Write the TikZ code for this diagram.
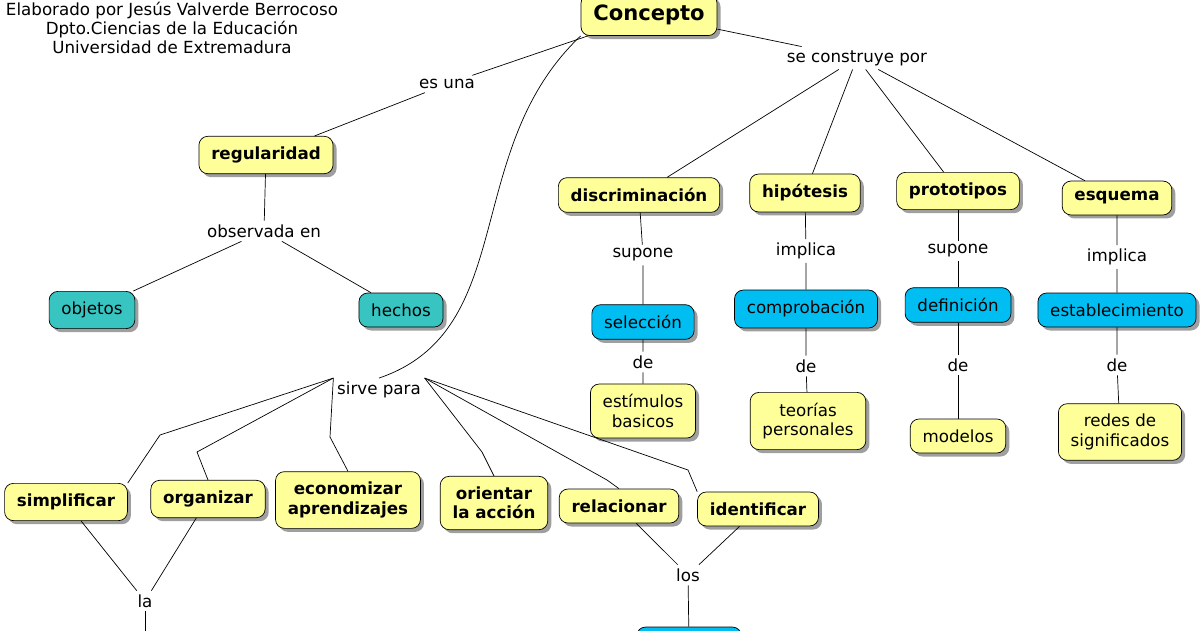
\documentclass[tikz,border=0pt]{standalone}
\usepackage{fontspec}
\setmainfont{DejaVu Sans}
\usetikzlibrary{shadows}
\definecolor{conyel}{HTML}{FFFF99}
\definecolor{concyan}{HTML}{00BEF2}
\definecolor{conteal}{HTML}{38C4C0}
\tikzset{
  concept/.style={draw=black, thin, rounded corners=5pt, fill=conyel, font=\fontsize{9.5}{11}\selectfont\bfseries,
    align=center, inner xsep=7pt, inner ysep=6pt, drop shadow={shadow xshift=2pt, shadow yshift=-2pt, fill=black!75}},
  act/.style={concept, fill=concyan, font=\fontsize{9.5}{11}\selectfont},
  obj/.style={concept, fill=conteal, font=\fontsize{9.5}{11}\selectfont},
  plain/.style={concept, font=\fontsize{9.5}{11}\selectfont},
  link/.style={font=\fontsize{9.5}{11}\selectfont, fill=white, inner sep=2pt},
  every path/.style={thin}
}
\begin{document}
\begin{tikzpicture}[x=0.02cm, y=-0.02cm]
  \useasboundingbox (0,0) rectangle (1200,630);
  \node[font=\fontsize{9.5}{11}\selectfont, align=center] (autor) at (172,28)
    {Elaborado por Jesús Valverde Berrocoso\\Dpto.Ciencias de la Educación\\Universidad de Extremadura};

  % top level
  \node[concept, font=\fontsize{12}{14}\selectfont\bfseries] (concepto) at (649,15) {Concepto};
  \node[link] (esuna) at (447,84) {es una};
  \node[link] (construye) at (857,58) {se construye por};
  \node[link] (sirve) at (379,390) {sirve para};

  % left branch
  \node[concept] (regular) at (266,155) {regularidad};
  \node[link] (observada) at (264,231) {observada en};
  \node[obj] (objetos) at (92,310) {objetos};
  \node[obj] (hechos) at (401,310) {hechos};

  % right branch
  \node[concept] (discrim) at (639,195) {discriminación};
  \node[concept] (hipo) at (805,193) {hipótesis};
  \node[concept] (proto) at (958,191) {prototipos};
  \node[concept] (esquema) at (1117,198) {esquema};
  \node[link] (sup1) at (643,255) {supone};
  \node[link] (imp1) at (806,251) {implica};
  \node[link] (sup2) at (958,251) {supone};
  \node[link] (imp2) at (1117,257) {implica};
  \node[act] (selec) at (643,322) {selección};
  \node[act] (compro) at (806,309) {comprobación};
  \node[act] (defin) at (958,305) {definición};
  \node[act] (estab) at (1117,310) {establecimiento};
  \node[link] (de1) at (643,362) {de};
  \node[link] (de2) at (806,366) {de};
  \node[link] (de3) at (958,365) {de};
  \node[link] (de4) at (1117,365) {de};
  \node[plain] (estim) at (643,411) {estímulos\\basicos};
  \node[plain] (teorias) at (808,421) {teorías\\personales};
  \node[plain] (modelos) at (958,436) {modelos};
  \node[plain] (redes) at (1120,432) {redes de\\significados};

  % bottom branch
  \node[concept] (simpl) at (66,502) {simplificar};
  \node[concept] (organ) at (208,499) {organizar};
  \node[concept] (econ) at (348,500) {economizar\\aprendizajes};
  \node[concept] (orient) at (494,503) {orientar\\la acción};
  \node[concept] (relac) at (619,506) {relacionar};
  \node[concept] (ident) at (758,509) {identificar};
  \node[link] (la) at (145,601) {la};
  \node[link] (los) at (688,575) {los};
  \node[act, minimum width=105pt*0.567, minimum height=30pt*0.567] (fondo) at (689,642) {};
  \coordinate (laend) at (145,640);

  % connectors
  \draw (concepto) -- (esuna) -- (regular) -- (observada);
  \draw (observada) -- (objetos);
  \draw (observada) -- (hechos);
  \draw (concepto) -- (construye);
  \foreach \t in {discrim,hipo,proto,esquema} \draw (construye) -- (\t);
  \draw (discrim) -- (sup1) -- (selec) -- (de1) -- (estim);
  \draw (hipo) -- (imp1) -- (compro) -- (de2) -- (teorias);
  \draw (proto) -- (sup2) -- (defin) -- (de3) -- (modelos);
  \draw (esquema) -- (imp2) -- (estab) -- (de4) -- (redes);
  \draw (concepto.south west) .. controls (460,150) and (520,330) .. (sirve.north);
  \draw (sirve.north west) -- (160,435) -- (simpl.north east);
  \draw (sirve.north west) -- (197,452) -- (organ.north);
  \draw (sirve.north west) -- (330,437) -- (econ.north);
  \draw (sirve.north east) -- (482,452) -- (orient.north);
  \draw (sirve.north east) -- (607,480) -- (relac.north);
  \draw (sirve.north east) -- (688,470) -- (ident.north west);
  \draw (simpl) -- (la);
  \draw (organ) -- (la);
  \draw (la) -- (laend);
  \draw (relac) -- (los);
  \draw (ident) -- (los);
  \draw (los) -- (fondo);
\end{tikzpicture}
\end{document}
